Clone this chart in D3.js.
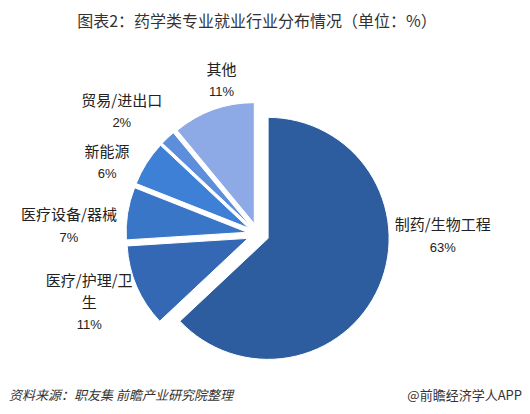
<!DOCTYPE html>
<html>
<head>
<meta charset="utf-8">
<script src="https://cdn.jsdelivr.net/npm/d3@7/dist/d3.min.js"></script>
<style>
  html, body { margin: 0; padding: 0; background: #fff; }
  svg { display: block; }
</style>
</head>
<body>
<div id="chart"></div>
<script>
const categories = ["制药/生物工程", "医疗/护理/卫生", "医疗设备/器械", "新能源", "贸易/进出口", "其他"];
const values = [63, 11, 7, 6, 2, 11];
const valueLabels = ["63%", "11%", "7%", "6%", "2%", "11%"];
const colors = ["#2d5d9e", "#3468b4", "#3a76c7", "#3e80d6", "#5d8edb", "#8eaae6"];
// label lines (category text may wrap)
const labelLines = [["制药/生物工程"], ["医疗/护理/卫", "生"], ["医疗设备/器械"], ["新能源"], ["贸易/进出口"], ["其他"]];

const W = 530, H = 414;
const svg = d3.select("#chart").append("svg").attr("width", W).attr("height", H);

const font = "'Noto Sans CJK SC', 'Microsoft YaHei', sans-serif";

svg.append("text")
  .attr("x", 257).attr("y", 27)
  .attr("text-anchor", "middle")
  .attr("font-family", font).attr("font-size", 16)
  .attr("fill", "#333")
  .text("图表2：药学类专业就业行业分布情况（单位：%）");

const cx = 258, cy = 234, R = 121, explode = 11;

const data = categories.map((c, i) => ({ name: c, value: values[i], label: valueLabels[i], color: colors[i], lines: labelLines[i] }));
const pie = d3.pie().sort(null).value(d => d.value).startAngle(0).endAngle(2 * Math.PI);
const arcs = pie(data);
const arc = d3.arc().innerRadius(0).outerRadius(R);

const g = svg.append("g").attr("transform", `translate(${cx},${cy})`);
g.selectAll("path").data(arcs).enter().append("path")
  .attr("d", arc)
  .attr("fill", d => d.data.color)
  .attr("stroke", "#fff").attr("stroke-width", 1)
  .attr("transform", d => {
    const a = (d.startAngle + d.endAngle) / 2;
    return `translate(${explode * Math.sin(a)},${-explode * Math.cos(a)})`;
  });

// label positions: radial placement outside each slice, then nudged
const labelR = R + 40;
const labelAdj = [[37, -62], [-21, 5], [-30, 17], [-15, 15], [-26, -5], [18, -2]];
const lg = svg.append("g").attr("transform", `translate(${cx},${cy})`);
arcs.forEach((d, i) => {
  const a = (d.startAngle + d.endAngle) / 2;
  const x = labelR * Math.sin(a) + labelAdj[i][0];
  const y = -labelR * Math.cos(a) + labelAdj[i][1];
  const lines = d.data.lines.concat([d.data.label]);
  const n = lines.length;
  const lh = 21.5;
  const t = lg.append("text")
    .attr("text-anchor", "middle")
    .attr("font-family", font)
    .attr("fill", "#222");
  lines.forEach((ln, k) => {
    const isPct = k === n - 1;
    t.append("tspan")
      .attr("x", x)
      .attr("y", y + (k - (n - 1) / 2) * lh + 5)
      .attr("font-size", isPct ? 13 : 15)
      .attr("font-family", isPct ? "'Liberation Sans', Arial, sans-serif" : font)
      .text(ln);
  });
});

svg.append("text")
  .attr("x", 9).attr("y", 400)
  .attr("font-family", font).attr("font-size", 13)
  .attr("font-style", "italic")
  .attr("fill", "#333")
  .text("资料来源：职友集 前瞻产业研究院整理");

svg.append("text")
  .attr("x", 522).attr("y", 400)
  .attr("text-anchor", "end")
  .attr("font-family", font).attr("font-size", 13)
  .attr("fill", "#333")
  .text("@前瞻经济学人APP");
</script>
</body>
</html>
